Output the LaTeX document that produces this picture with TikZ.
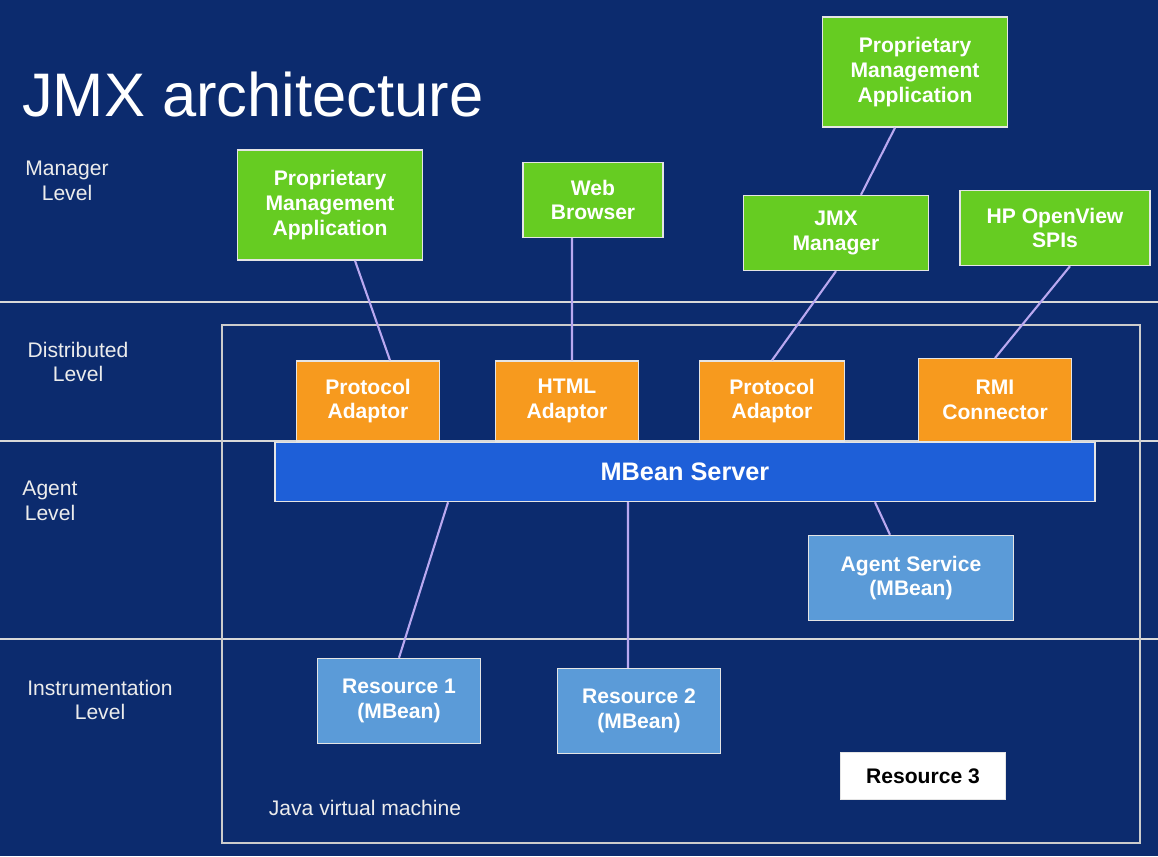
\documentclass[tikz,border=0pt]{standalone}
\usepackage{fontspec}
\setmainfont{Liberation Sans}
\definecolor{navy}{HTML}{0C2B6E}
\definecolor{grn}{HTML}{66CC22}
\definecolor{org}{HTML}{F79A1E}
\definecolor{srv}{HTML}{1E5FD8}
\definecolor{lblue}{HTML}{5B9BD8}
\definecolor{lav}{HTML}{B9A8F0}
\begin{document}
\begin{tikzpicture}
	[x=0.02cm,y=-0.02cm,
	box/.style={draw=white!80!gray,line width=0.8pt,align=center,text=white,font=\bfseries\large,inner sep=2pt},
	mgr/.style={box,fill=grn},
	adp/.style={box,fill=org},
	res/.style={box,fill=lblue},
	lvl/.style={text=white!85!gray,align=center,font=\large},
	link/.style={lav,line width=1.2pt}]
	\fill[navy] (0,0) rectangle (1158,856);
	\useasboundingbox (0,0) rectangle (1158,856);
	% level separators
	\foreach \y in {302,441,639}
		\draw[white!70!gray,line width=0.8pt] (0,\y) -- (1158,\y);
	\draw[white!60!gray,line width=0.8pt] (222,325) rectangle (1140,843);
	\node[text=white,font=\fontsize{35}{40}\selectfont,anchor=west] (title) at (16,95) {JMX architecture};
	\node[lvl] (lman) at (67,181) {Manager\\Level};
	\node[lvl] (ldis) at (78,362) {Distributed\\Level};
	\node[lvl] (lage) at (50,501) {Agent\\Level};
	\node[lvl] (lins) at (100,700) {Instrumentation\\Level};
	\node[lvl] (jvm) at (365,808) {Java virtual machine};
	% manager level
	\node[mgr,minimum width=3.7cm,minimum height=2.2cm] (pma1) at (330,205) {Proprietary\\Management\\Application};
	\node[mgr,minimum width=2.8cm,minimum height=1.5cm] (web) at (593,200) {Web\\Browser};
	\node[mgr,minimum width=3.7cm,minimum height=1.5cm] (jmxm) at (836,233) {JMX\\Manager};
	\node[mgr,minimum width=3.7cm,minimum height=2.2cm] (pma2) at (915,72) {Proprietary\\Management\\Application};
	\node[mgr,minimum width=3.8cm,minimum height=1.5cm] (hp) at (1055,228) {HP OpenView\\SPIs};
	% distributed level
	\node[adp,minimum width=2.85cm,minimum height=1.6cm] (pa1) at (368,401) {Protocol\\Adaptor};
	\node[adp,minimum width=2.85cm,minimum height=1.6cm] (html) at (567,401) {HTML\\Adaptor};
	\node[adp,minimum width=2.9cm,minimum height=1.6cm] (pa2) at (772,401) {Protocol\\Adaptor};
	\node[adp,minimum width=3.05cm,minimum height=1.65cm] (rmi) at (995,400) {RMI\\Connector};
	% agent level
	\node[box,fill=srv,minimum width=16.4cm,minimum height=1.18cm,font=\bfseries\Large] (mbs) at (685,472) {MBean Server};
	\node[res,minimum width=4.1cm,minimum height=1.7cm] (agent) at (911,578) {Agent Service\\(MBean)};
	% instrumentation level
	\node[res,minimum width=3.25cm,minimum height=1.7cm] (r1) at (399,701) {Resource 1\\(MBean)};
	\node[res,minimum width=3.25cm,minimum height=1.7cm] (r2) at (639,711) {Resource 2\\(MBean)};
	\node[box,fill=white,text=black,minimum width=3.3cm,minimum height=0.95cm] (r3) at (923,776) {Resource 3};
	% links
	\draw[link] ([xshift=0.5cm]pma1.south) -- ([xshift=0.44cm]pa1.north);
	\draw[link] ([xshift=-0.42cm]web.south) -- ([xshift=0.1cm]html.north);
	\draw[link] (jmxm.south) -- (pa2.north);
	\draw[link] ([xshift=-0.4cm]pma2.south) -- ([xshift=0.5cm]jmxm.north);
	\draw[link] ([xshift=0.3cm]hp.south) -- (rmi.north);
	\draw[link] ([xshift=-4.74cm]mbs.south) -- (r1.north);
	\draw[link] ([xshift=-1.14cm]mbs.south) -- ([xshift=-0.22cm]r2.north);
	\draw[link] ([xshift=3.8cm]mbs.south) -- ([xshift=-0.42cm]agent.north);
\end{tikzpicture}
\end{document}
